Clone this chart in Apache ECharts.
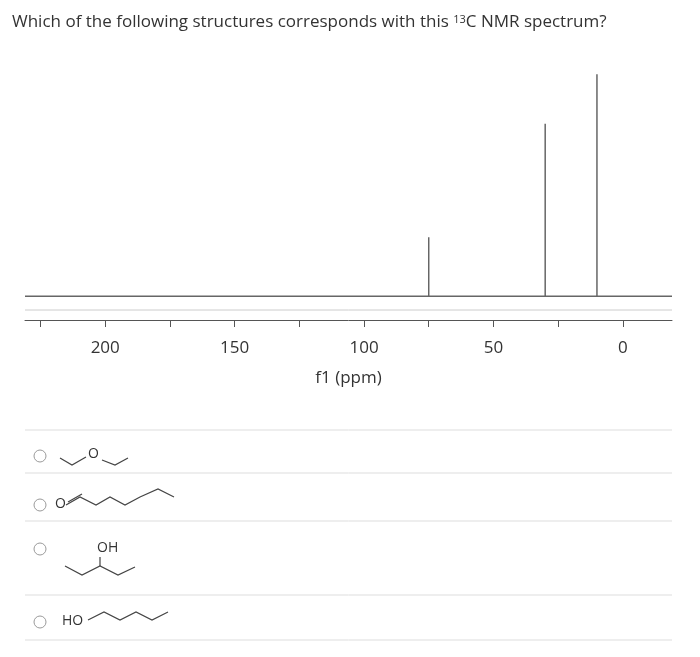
<!DOCTYPE html>
<html><head><meta charset="utf-8">
<script src="https://cdn.jsdelivr.net/npm/echarts@6/dist/echarts.min.js"></script>
<style>html,body{margin:0;background:#fff}#c{width:700px;height:657px}</style>
</head><body><div id="c"></div>
<script>
const peakPpm = [75, 30, 10];
const peakHeight = [25, 73, 94];
const tickLabels = [200, 150, 100, 50, 0];
const tickValues = [225, 200, 175, 150, 125, 100, 75, 50, 25, 0];
const xRange = [-19, 231];

const data = [[xRange[1], 0]];
const sorted = peakPpm.map((p, i) => [p, peakHeight[i]]).sort((a, b) => b[0] - a[0]);
sorted.forEach(([p, h]) => { data.push([p, 0], [p, h], [p, 0]); });
data.push([xRange[0], 0]);

const txt = (x, y, t, s) => ({type:'text', left:x, top:y, style:{text:t, font:(s||14)+'px "Open Sans", sans-serif', fill:'#333'}});
const line = (pts) => ({type:'polyline', shape:{points:pts}, style:{stroke:'#444', lineWidth:1.2, fill:null}});
const hr = (y) => ({type:'line', shape:{x1:25,y1:y,x2:672,y2:y}, style:{stroke:'#ddd', lineWidth:1}});
const radio = (y) => ({type:'circle', shape:{cx:40, cy:y, r:6}, style:{stroke:'#999', fill:'#fff', lineWidth:1}});

const chart = echarts.init(document.getElementById('c'));
chart.setOption({
  animation:false,
  grid:{left:25, right:28, top:60, bottom:337},
  xAxis:{type:'value', inverse:true, min:xRange[0], max:xRange[1],
    axisLine:{onZero:false, lineStyle:{color:'#555'}},
    axisTick:{length:7, customValues:tickValues, lineStyle:{color:'#555'}},
    splitLine:{show:false},
    axisLabel:{margin:20, fontSize:17, color:'#333', fontFamily:'Open Sans', customValues:tickLabels},
    name:'f1 (ppm)', nameLocation:'middle', nameGap:50,
    nameTextStyle:{fontSize:17, color:'#333', fontFamily:'Open Sans'}},
  yAxis:{type:'value', min:-10, max:100, show:false},
  series:[{type:'line', data:data, symbol:'none', lineStyle:{color:'#666', width:1.5}}],
  graphic:[
    {type:'text', left:12, top:14, style:{rich:{a:{font:'17px "Open Sans", sans-serif', fill:'#333'}, s:{font:'11px "Open Sans", sans-serif', fill:'#333', verticalAlign:'top'}}, text:'{a|Which of the following structures corresponds with this }{s|13}{a|C NMR spectrum?}'}},
    {type:'line', shape:{x1:25,y1:310,x2:672,y2:310}, style:{stroke:'#ccc', lineWidth:1}},
    hr(430), hr(473), hr(521), hr(595), hr(640),
    radio(456), radio(505), radio(549), radio(622),
    line([[60,458],[72,465],[86,457]]), txt(88,447,'O',14), line([[102,460],[115,465],[128,458]]),
    txt(55,497,'O',14), line([[66,505],[80,497],[96,505],[110,497],[125,505],[140,497],[158,489],[174,497]]),
    line([[68,502],[82,494]]),
    txt(97,541,'OH',14), line([[65,566],[82,575],[100,566],[118,575],[135,567]]), line([[100,566],[100,557]]),
    txt(62,614,'HO',14), line([[88,620],[104,612],[120,620],[136,612],[152,620],[168,612]])
  ]
});
</script></body></html>
